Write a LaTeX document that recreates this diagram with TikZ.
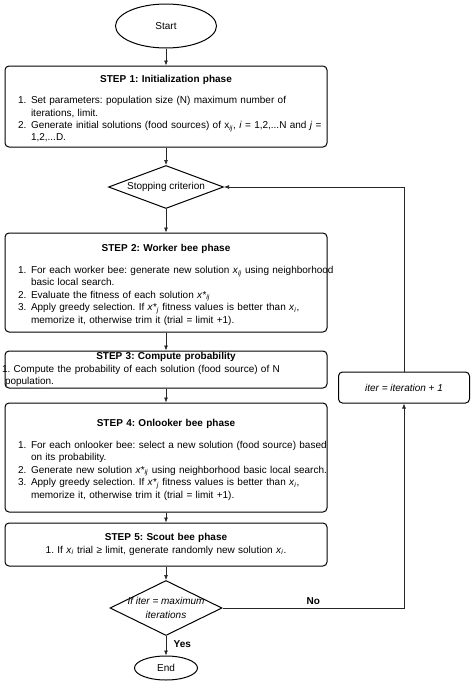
\documentclass[tikz,border=0pt]{standalone}
\usepackage{fontspec}
\setmainfont{Liberation Sans}
\usetikzlibrary{arrows.meta,shapes.geometric}
\frenchspacing

\newcommand{\steptitle}[1]{{\centering\bfseries\rule{0pt}{13.7pt}#1\par}\vspace{9.1pt}}
\newcommand{\solx}[1]{\textit{x}\textsubscript{\textit{#1}}}
\newcommand{\solxs}[1]{\textit{x}*\textsubscript{\textit{#1}}}

\begin{document}
\begin{tikzpicture}[x=1pt,y=-1pt,>={Latex[length=5pt,width=4pt]},
  every node/.style={font=\fontsize{10}{12.4}\selectfont},
  stepbox/.style={draw, line width=1pt, rounded corners=4pt, text width=312pt,
    inner xsep=5pt, inner ysep=0pt, align=left},
  terminal/.style={ellipse, draw, line width=1pt, inner sep=0pt},
  decision/.style={diamond, draw, line width=1pt, aspect=2.7, inner sep=0pt},
  flow/.style={->, line width=0.7pt, black!85}]
\useasboundingbox (0,0) rectangle (474,683);

\node[terminal, minimum width=101pt, minimum height=44pt] (start) at (166,26) {Start};

\node[stepbox, minimum height=81pt] (step1) at (166,106.5) {%
\steptitle{STEP 1: Initialization phase}
\noindent\begin{tabular}[t]{@{\hspace{8pt}}p{13pt}@{}l@{}}
1. & Set parameters: population size (N) maximum number of\\
   & iterations, limit.\\
2. & Generate initial solutions (food sources) of x\textsubscript{\textit{ij}}, \textit{i} = 1,2,...N and \textit{j} =\\
   & 1,2,...D.
\end{tabular}};

\node[decision, minimum width=115pt, minimum height=43pt] (stop) at (166,187) {Stopping criterion};

\node[stepbox, minimum height=99pt] (step2) at (166,282.5) {%
\steptitle{STEP 2: Worker bee phase}
\noindent\begin{tabular}[t]{@{\hspace{8pt}}p{13pt}@{}l@{}}
1. & For each worker bee: generate new solution \solx{ij} using neighborhood\\
   & basic local search.\\
2. & Evaluate the fitness of each solution \solxs{ij}\\
3. & Apply greedy selection. If \solxs{j} fitness values is better than \solx{i},\\
   & memorize it, otherwise trim it (trial = limit +1).
\end{tabular}};

\node[stepbox, minimum height=37pt] (step3) at (166,369.5) {%
{\centering\bfseries STEP 3: Compute probability\par}
\noindent\hspace*{-8pt}1. Compute the probability of each solution (food source) of N\\
\hspace*{-5pt}population.};

\node[stepbox, minimum height=109pt] (step4) at (166,457.5) {%
\steptitle{STEP 4: Onlooker bee phase}
\noindent\begin{tabular}[t]{@{\hspace{8pt}}p{13pt}@{}l@{}}
1. & For each onlooker bee: select a new solution (food source) based\\
   & on its probability.\\
2. & Generate new solution \solxs{ij} using neighborhood basic local search.\\
3. & Apply greedy selection. If \solxs{j} fitness values is better than \solx{i},\\
   & memorize it, otherwise trim it (trial = limit +1).
\end{tabular}};

\node[stepbox, align=center, minimum height=43pt] (step5) at (166,544.5) {%
{\bfseries STEP 5: Scout bee phase}\\
1. If \solx{i} trial ≥ limit, generate randomly new solution \solx{i}.};

\node[decision, minimum width=112pt, minimum height=55pt,
  label={[align=center, font=\fontsize{10}{13.5}\selectfont\itshape]center:If iter = maximum\\iterations}] (check) at (166,608) {};

\node[terminal, minimum width=63pt, minimum height=24pt] (end) at (166,668) {End};

\node[draw, line width=1pt, rounded corners=4pt, minimum width=131pt, minimum height=31pt,
  font=\fontsize{10}{12.4}\selectfont\itshape] (iter) at (404,387.5) {iter = iteration + 1};

\draw[flow] (start) -- (step1);
\draw[flow] (step1) -- (stop);
\draw[flow] (stop) -- (step2);
\draw[flow] (step2) -- (step3);
\draw[flow] (step3) -- (step4);
\draw[flow] (step4) -- (step5);
\draw[flow] (step5) -- (check);
\draw[flow] (check) -- node[pos=0.4, right=4pt, font=\fontsize{10}{12.4}\selectfont\bfseries, black] {Yes} (end);
\draw[flow] (check.east) -| node[pos=0.25, above, font=\fontsize{10}{12.4}\selectfont\bfseries, black] {No} (iter);
\draw[flow] (iter) |- (stop.east);
\end{tikzpicture}
\end{document}
